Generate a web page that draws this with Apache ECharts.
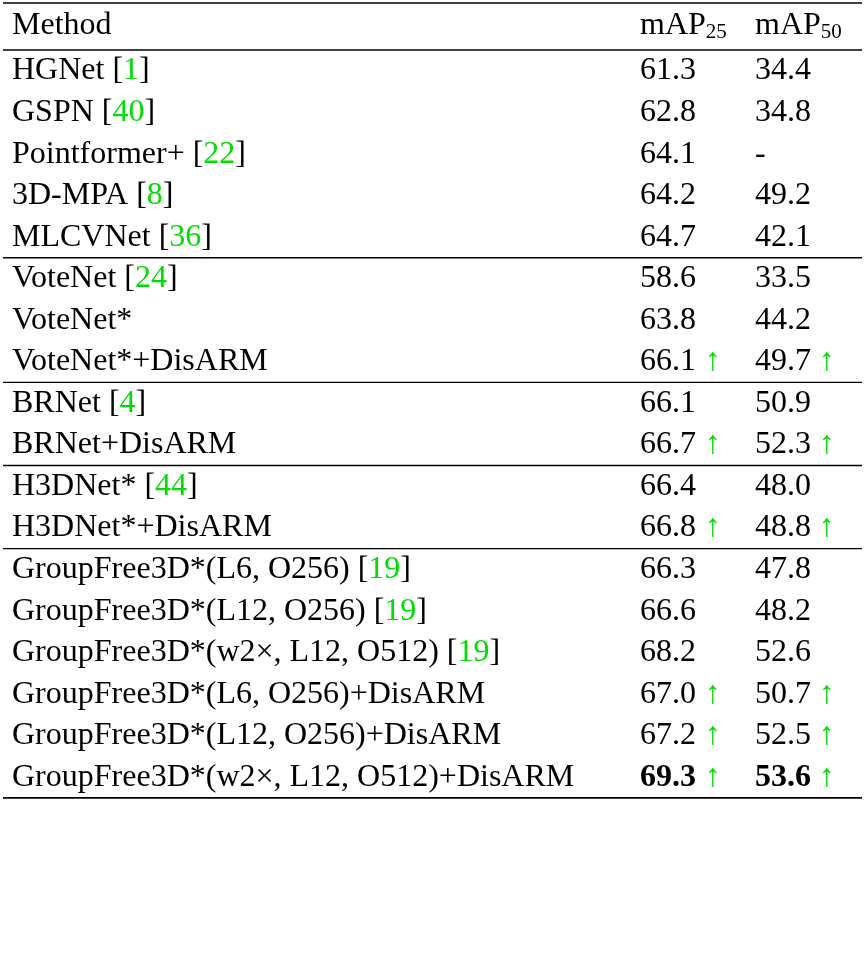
<!DOCTYPE html>
<html><head><meta charset="utf-8">
<script src="https://cdn.jsdelivr.net/npm/echarts@6/dist/echarts.min.js"></script>
<style>html,body{margin:0;padding:0;background:#fff}#c{width:867px;height:968px}</style>
</head><body><div id="c"></div>
<script>
const methods = ["HGNet","GSPN","Pointformer+","3D-MPA","MLCVNet","VoteNet","VoteNet*","VoteNet*+DisARM","BRNet","BRNet+DisARM","H3DNet*","H3DNet*+DisARM","GroupFree3D*(L6, O256)","GroupFree3D*(L12, O256)","GroupFree3D*(w2×, L12, O512)","GroupFree3D*(L6, O256)+DisARM","GroupFree3D*(L12, O256)+DisARM","GroupFree3D*(w2×, L12, O512)+DisARM"];
const citations = ["1","40","22","8","36","24","","","4","","44","","19","19","19","","",""];
const map25 = ["61.3","62.8","64.1","64.2","64.7","58.6","63.8","66.1","66.1","66.7","66.4","66.8","66.3","66.6","68.2","67.0","67.2","69.3"];
const map50 = ["34.4","34.8","-","49.2","42.1","33.5","44.2","49.7","50.9","52.3","48.0","48.8","47.8","48.2","52.6","50.7","52.5","53.6"];
const up25 = [0,0,0,0,0,0,0,1,0,1,0,1,0,0,0,1,1,1];
const up50 = [0,0,0,0,0,0,0,1,0,1,0,1,0,0,0,1,1,1];
const bold25 = [0,0,0,0,0,0,0,0,0,0,0,0,0,0,0,0,0,1];
const bold50 = [0,0,0,0,0,0,0,0,0,0,0,0,0,0,0,0,0,1];
const groupSizes = [5,3,2,2,6];

const FONT = '"Liberation Serif","DejaVu Serif",serif';
const FS = 32, GREEN = '#00dd00';
const top0 = 3, headerY = 26, headLine = 50, rowH = 41.55;
const X0 = 3, X1 = 862, XM = 12, XA = 640, XB = 755, XUA = 705, XUB = 819;
const els = [];
function txt(x, y, rich, text, weight) {
  els.push({type:'text', x, y, style:{text, font:(weight||'normal')+' '+FS+'px '+FONT, fill:'#000',
    verticalAlign:'middle', rich}});
}
function line(y, w) {
  els.push({type:'line', shape:{x1:X0,y1:y,x2:X1,y2:y}, style:{stroke:'#000', lineWidth:w||1.3}});
}
const rich = {
  s:{fontSize:21, fontFamily:FONT, verticalAlign:'bottom', padding:[13,0,0,0], fill:'#000'},
  c:{fontSize:FS, fontFamily:FONT, fill:GREEN},
  n:{fontSize:FS, fontFamily:FONT, fill:'#000'}
};
line(top0, 1.6);
txt(XM, headerY, rich, 'Method');
txt(XA, headerY, rich, '{n|mAP}{s|25}');
txt(XB, headerY, rich, '{n|mAP}{s|50}');
line(headLine);
let y = headLine + 21, i = 0;
groupSizes.forEach((g, gi) => {
  for (let k = 0; k < g; k++, i++) {
    const t = citations[i] ? '{n|' + methods[i] + ' [}{c|' + citations[i] + '}{n|]}' : '{n|' + methods[i] + '}';
    txt(XM, y, rich, t);
    txt(XA, y, null, map25[i], bold25[i] ? 'bold' : 'normal');
    txt(XB, y, null, map50[i], bold50[i] ? 'bold' : 'normal');
    if (up25[i]) els.push({type:'text', x:XUA, y, style:{text:'↑', font:FS+'px '+FONT, fill:GREEN, verticalAlign:'middle'}});
    if (up50[i]) els.push({type:'text', x:XUB, y, style:{text:'↑', font:FS+'px '+FONT, fill:GREEN, verticalAlign:'middle'}});
    y += rowH;
  }
  line(y - 21, gi === groupSizes.length - 1 ? 1.6 : 1.3);
});
const chart = echarts.init(document.getElementById('c'));
chart.setOption({animation:false, graphic:{elements:els}});
</script></body></html>
